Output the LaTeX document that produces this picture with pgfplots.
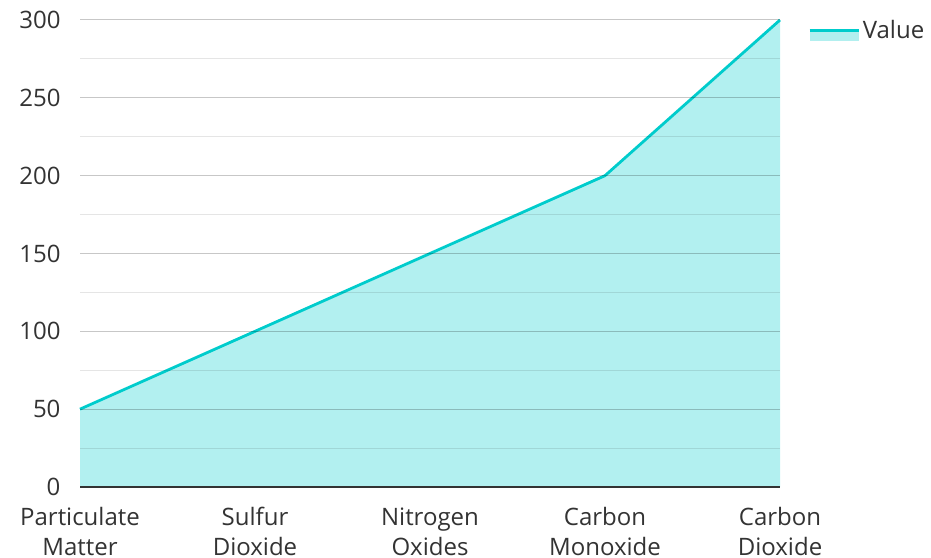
\documentclass[border=0pt]{standalone}
\usepackage{pgfplots}
\pgfplotsset{compat=1.18}
\usepackage{fontspec}
\setmainfont{Open Sans}
\definecolor{linecyan}{HTML}{00CCCC}
\definecolor{txt}{HTML}{333333}
\begin{document}
\begin{tikzpicture}
\begin{axis}[
    name=ax,
    scale only axis,
    width=700pt, height=467pt,
    xmin=0, xmax=4,
    ymin=0, ymax=300,
    xtick={0,1,2,3,4},
    xticklabels={{Particulate\\Matter},{Sulfur\\Dioxide},{Nitrogen\\Oxides},{Carbon\\Monoxide},{Carbon\\Dioxide}},
    ytick={0,50,...,300},
    minor ytick={25,75,...,275},
    ymajorgrids, yminorgrids,
    axis on top,
    major grid style={draw=black, draw opacity=0.22, line width=1pt},
    minor grid style={draw=black, draw opacity=0.1, line width=1pt},
    axis x line*=bottom,
    axis y line*=left,
    y axis line style={draw=none},
    x axis line style={draw=txt, line width=2pt, -},
    major tick length=0pt, minor tick length=0pt,
    ticklabel style={font=\fontsize{24}{30}\selectfont, text=txt},
    xticklabel style={align=center, yshift=-17pt},
    yticklabel style={xshift=-16pt},
    /pgf/number format/assume math mode=true,
    clip=false,
    legend style={at={(rel axis cs:1.0386,1.006)}, anchor=north west, draw=none,
        font=\fontsize{24}{28}\selectfont, text=txt, inner sep=1pt,
        legend cell align=left},
]
\addlegendimage{legend image code/.code={
        \path[draw=none, fill=linecyan, fill opacity=0.3] (0cm,-0.36cm) rectangle (1.75cm,0cm);
        \draw[linecyan, line width=2.8pt] (0cm,0cm) -- (1.75cm,0cm);
    }}
\addlegendentry{Value}
\addplot[draw=none, fill=linecyan, fill opacity=0.3, forget plot]
    coordinates {(0,50) (1,100) (2,150) (3,200) (4,300)} \closedcycle;
\addplot[draw=linecyan, line width=2.8pt, forget plot]
    coordinates {(0,50) (1,100) (2,150) (3,200) (4,300)};
\end{axis}
\pgfresetboundingbox
\path[use as bounding box] ([shift={(-80pt,-71pt)}]ax.south west) rectangle ([shift={(151pt,20pt)}]ax.north east);
\end{tikzpicture}
\end{document}
